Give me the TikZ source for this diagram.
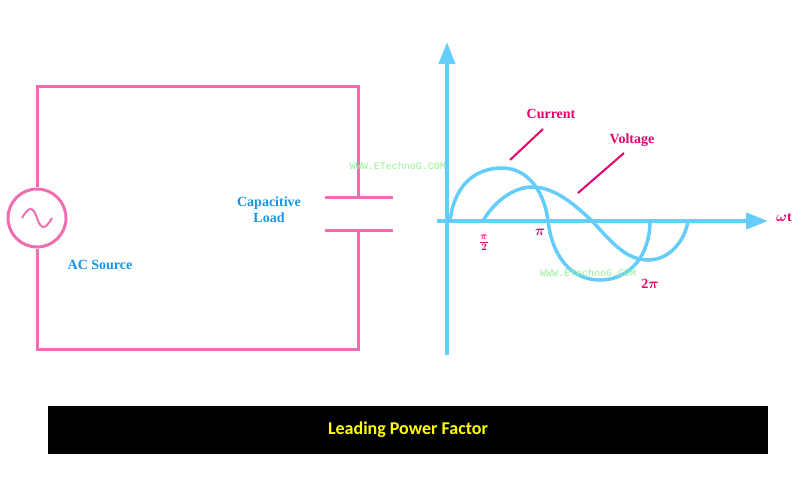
\documentclass[tikz,border=0pt]{standalone}
\usepackage{amsmath}
\usepackage{fontspec}
\setmainfont{Liberation Serif}
\newfontfamily\bannerfont{Carlito}
\newfontfamily\monofont{Liberation Mono}
\usetikzlibrary{arrows.meta}
\definecolor{wire}{RGB}{240,110,175}
\definecolor{wave}{RGB}{100,205,250}
\definecolor{mag}{RGB}{230,0,110}
\definecolor{lblue}{RGB}{20,150,225}
\definecolor{wm}{RGB}{150,240,150}
\definecolor{ban}{RGB}{255,255,0}
\tikzset{
 w/.style={wire,line width=3pt},
 v/.style={wave,line width=3.5pt},
 ml/.style={text=mag,font=\bfseries\fontsize{14}{14}\selectfont},
 bl/.style={text=lblue,font=\bfseries\fontsize{14}{16}\selectfont,align=center},
 wmk/.style={text=wm,font=\monofont\fontsize{10}{10}\selectfont},
 ax/.style={wave,line width=4pt,-{Triangle[length=22pt,width=16pt]}}
}
\begin{document}
\begin{tikzpicture}[x=1pt,y=-1pt]
\useasboundingbox (0,0) rectangle (799,478);
% circuit
\node[circle,draw=wire,line width=3pt,minimum size=58pt,inner sep=0] (src) at (37,218) {};
\draw[wire,line width=2pt] (22,218) .. controls (29,206) and (33,206) .. (37,218) .. controls (41,230) and (45,230) .. (52,218);
\coordinate (tl) at (37,87); \coordinate (tr) at (358,87);
\coordinate (bl) at (37,349); \coordinate (br) at (358,349);
\coordinate (p1) at (358,198); \coordinate (p2) at (358,230);
\coordinate (p1a) at (325,198); \coordinate (p1b) at (393,198);
\coordinate (p2a) at (325,230); \coordinate (p2b) at (393,230);
\draw[w] (src.north) -- (tl) -- (tr) -- (p1);
\draw[w] (src.south) -- (bl) -- (br) -- (p2);
\draw[w] (p1a) -- (p1b);
\draw[w] (p2a) -- (p2b);
\node[bl] (cap) at (269,210) {Capacitive\\Load};
\node[bl] (ac) at (100,265) {AC Source};
\node[wmk] (wm1) at (398,166) {WWW.ETechnoG.COM};
% axes
\coordinate (o) at (447,221);
\coordinate (yb) at (447,355); \coordinate (yt) at (447,42);
\coordinate (xl) at (437,221); \coordinate (xr) at (768,221);
\draw[ax] (yb) -- (yt);
\draw[ax] (xl) -- (xr);
% waves
\draw[v] (450,221) .. controls (455,180) and (480,168) .. (502,168) .. controls (530,168) and (545,195) .. (548,221)
 .. controls (552,255) and (570,280) .. (600,280) .. controls (630,280) and (650,255) .. (650,221);
\draw[v] (483,221) .. controls (495,200) and (515,187) .. (532,187) .. controls (555,187) and (575,205) .. (592,221)
 .. controls (610,240) and (625,260) .. (648,260) .. controls (670,260) and (685,240) .. (688,221);
\node[wmk] (wm2) at (588,273) {WWW.ETechnoG.COM};
% labels
\node[ml] (cur) at (551,114) {Current};
\node[ml] (vol) at (632,140) {Voltage};
\coordinate (c1) at (510,160); \coordinate (c2) at (543,129);
\coordinate (v1) at (578,193); \coordinate (v2) at (624,153);
\draw[mag,line width=2pt] (c1) -- (c2);
\draw[mag,line width=2pt] (v1) -- (v2);
\node[ml] (pi2) at (484,243) {$\boldsymbol{\frac{\pi}{2}}$};
\node[ml] (pi) at (540,232) {$\boldsymbol{\pi}$};
\node[ml] (tpi) at (650,284) {2$\boldsymbol{\pi}$};
\node[ml] (wt) at (784,218) {$\boldsymbol{\omega}$t};
% banner
\node[fill=black,minimum width=720pt,minimum height=48pt,inner sep=0,text=ban,font=\bannerfont\bfseries\fontsize{18}{18}\selectfont] (ban) at (408,430) {Leading Power Factor};
\end{tikzpicture}
\end{document}
